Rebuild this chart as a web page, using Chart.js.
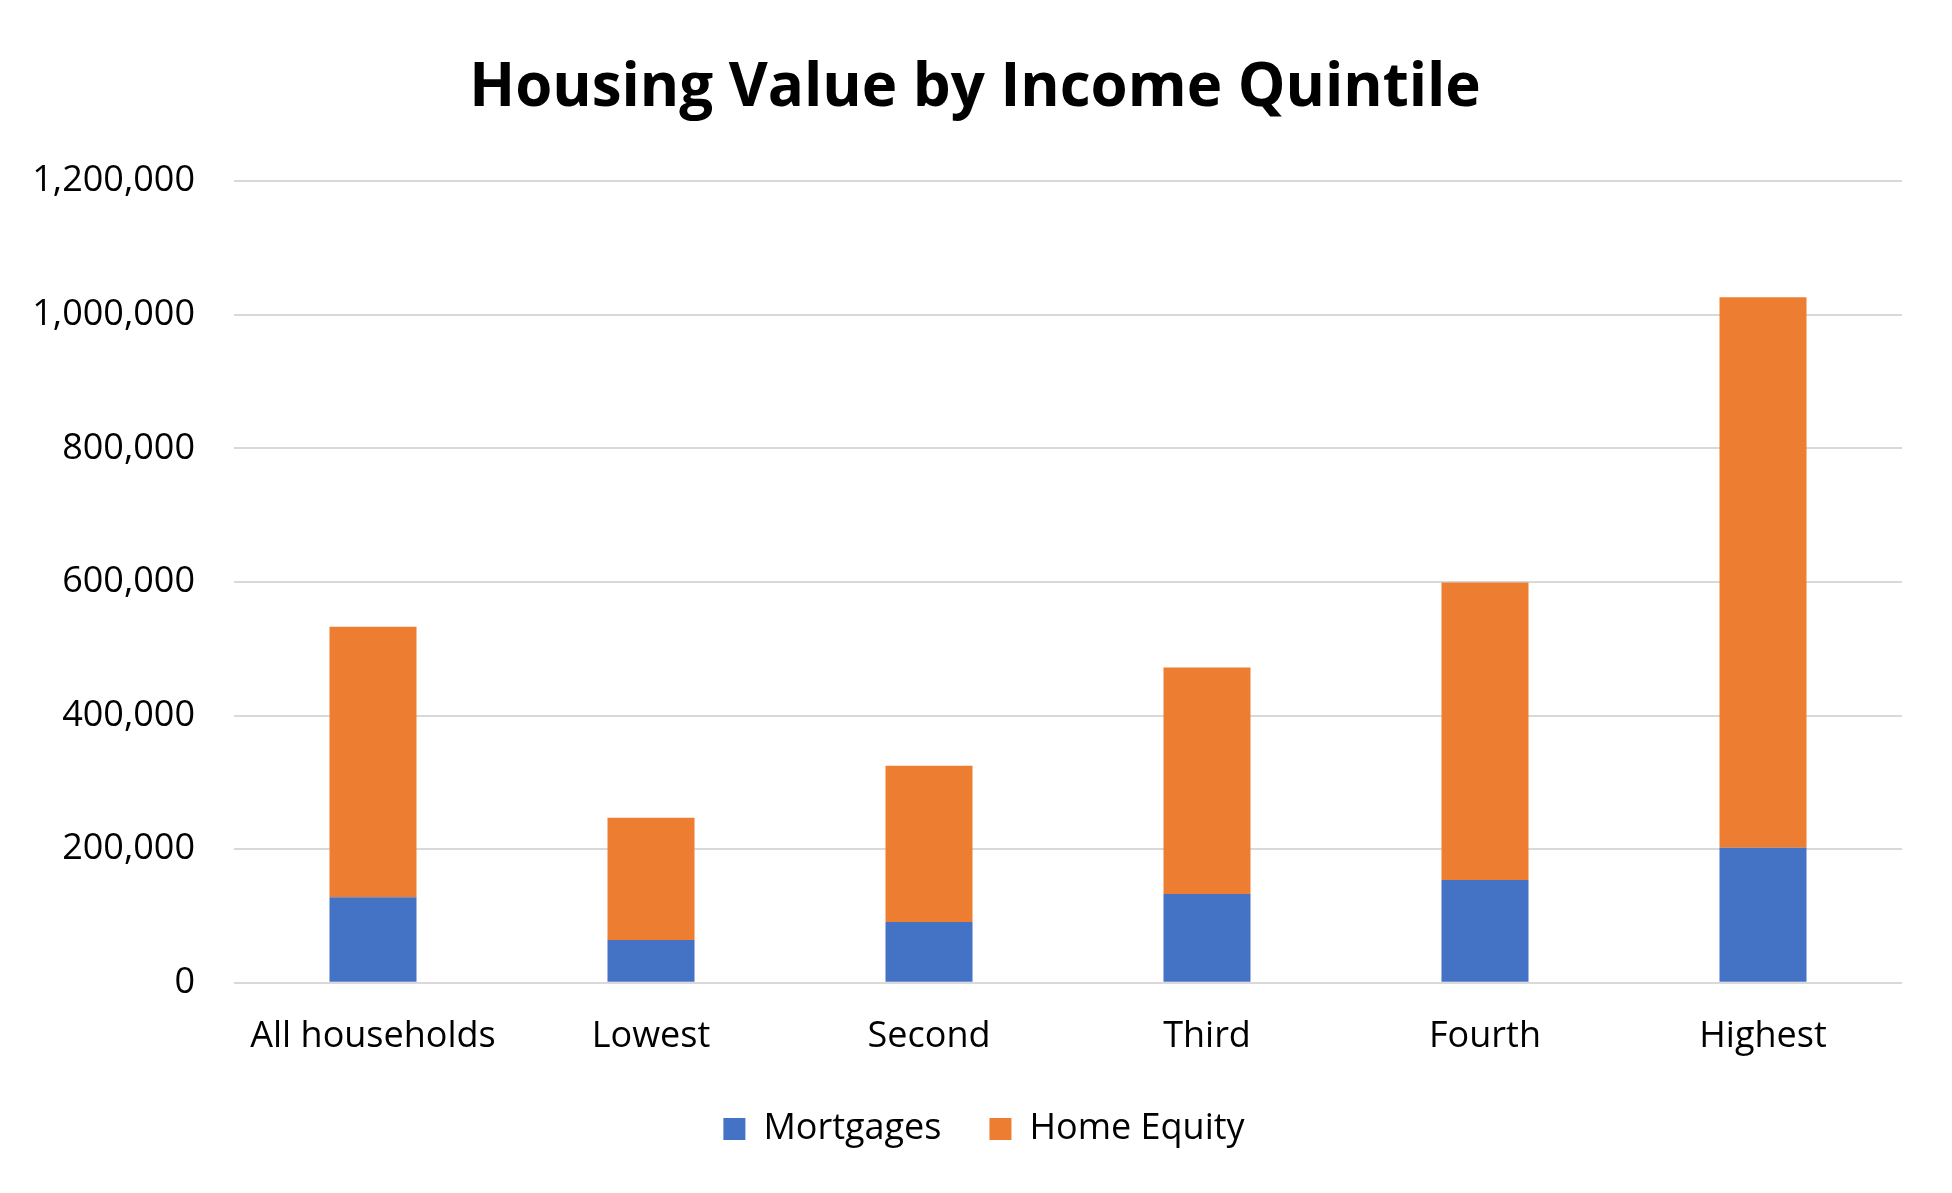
<!DOCTYPE html>
<html>
<head>
<meta charset="utf-8">
<script src="https://cdn.jsdelivr.net/npm/chart.js@4.4.1/dist/chart.umd.min.js"></script>
<style>
  html, body { margin: 0; padding: 0; background: #fff; }
  #wrap { width: 1952px; height: 1193px; }
</style>
</head>
<body>
<div id="wrap"><canvas id="housingChart"></canvas></div>
<script>
var quintiles = ["All households", "Lowest", "Second", "Third", "Fourth", "Highest"];
var mortgages = [128000, 64000, 91000, 133000, 154000, 202000];
var homeEquity = [405000, 183000, 234000, 339000, 445000, 824000];
var yTicks = [0, 200000, 400000, 600000, 800000, 1000000, 1200000];

var fontFamily = "'Open Sans', 'Noto Sans', sans-serif";

var housingData = {
  labels: quintiles,
  datasets: [
    {
      label: "Mortgages",
      backgroundColor: "#4472C4",
      data: mortgages,
      barPercentage: 0.313,
      categoryPercentage: 1,
    },
    {
      label: "Home Equity",
      backgroundColor: "#ED7D31",
      data: homeEquity,
      barPercentage: 0.313,
      categoryPercentage: 1,
    },
  ],
};

// title and legend sit a bit right of the canvas centre in the original
var nudgeBlocks = {
  id: "nudgeBlocks",
  afterLayout: function (chart) {
    if (chart.titleBlock) {
      chart.titleBlock.left += 24;
      chart.titleBlock.right += 24;
    }
    if (chart.legend) {
      chart.legend.left += 33;
      chart.legend.right += 33;
    }
  },
};

var housingOptions = {
  responsive: true,
  maintainAspectRatio: false,
  animation: false,
  layout: {
    padding: { left: 0, right: 50, top: 0, bottom: 36 },
  },
  plugins: {
    title: {
      display: true,
      text: "Housing Value by Income Quintile",
      color: "#000",
      font: { family: fontFamily, size: 60, weight: "bold" },
      padding: { top: 53, bottom: 56 },
    },
    legend: {
      position: "bottom",
      labels: {
        color: "#000",
        font: { family: fontFamily, size: 36 },
        boxWidth: 22,
        boxHeight: 22,
        padding: 48,
      },
    },
    tooltip: { enabled: false },
  },
  scales: {
    x: {
      stacked: true,
      grid: { display: false, drawTicks: false },
      border: { display: false },
      afterFit: function (scale) {
        // keep the legend close to the labels, as in the original
        scale.height = scale.height - 27;
      },
      ticks: {
        color: "#000",
        font: { family: fontFamily, size: 36 },
        padding: 32,
        maxRotation: 0,
      },
    },
    y: {
      stacked: true,
      min: 0,
      max: 1200000,
      afterBuildTicks: function (scale) {
        scale.ticks = yTicks.map(function (v) { return { value: v }; });
      },
      afterFit: function (scale) {
        scale.width = 234;
      },
      grid: { color: "#D9D9D9", lineWidth: 2, drawTicks: false },
      border: { display: false },
      ticks: {
        color: "#000",
        font: { family: fontFamily, size: 36 },
        padding: 39,
        callback: function (value) {
          return Number(value).toLocaleString("en-US");
        },
      },
    },
  },
};

new Chart(document.getElementById("housingChart").getContext("2d"), {
  type: "bar",
  data: housingData,
  options: housingOptions,
  plugins: [nudgeBlocks],
});
</script>
</body>
</html>
